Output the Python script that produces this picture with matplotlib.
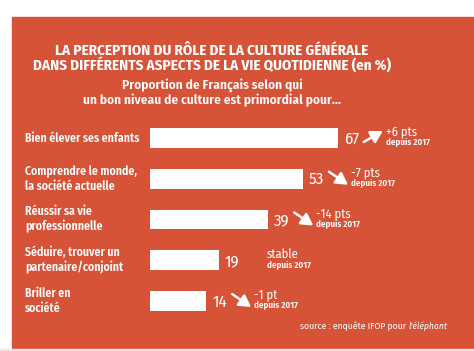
import matplotlib
matplotlib.use('Agg')
import numpy as np
import matplotlib.pyplot as plt
from matplotlib import font_manager, transforms
from matplotlib.patches import Rectangle

# Données (sondage IFOP)
CATEGORIES = ["Bien élever ses enfants",
              "Comprendre le monde,\nla société actuelle",
              "Réussir sa vie\nprofessionnelle",
              "Séduire, trouver un\npartenaire/conjoint",
              "Briller en\nsociété"]
VALUES = [67, 53, 39, 19, 14]
CHANGES = [6, -7, -14, 0, -1]
CHANGE_LABELS = ["+6 pts", "-7 pts", "-14 pts", "stable", "-1 pt"]
SINCE = "depuis 2017"

TITLE = "LA PERCEPTION DU RÔLE DE LA CULTURE GÉNÉRALE\nDANS DIFFÉRENTS ASPECTS DE LA VIE QUOTIDIENNE (en %)"
SUBTITLE = "Proportion de Français selon qui\nun bon niveau de culture est primordial pour..."

PANEL = '#D75338'
W, H = 474, 351

names = {f.name for f in font_manager.fontManager.ttflist}
FONT = 'Fira Sans Condensed' if 'Fira Sans Condensed' in names else 'Liberation Sans'
plt.rcParams['font.family'] = [FONT, 'DejaVu Sans']


def fx(px):
    return px / W


def fy(py):
    return 1 - py / H


fig = plt.figure(figsize=(W / 100, H / 100), dpi=100)
fig.patch.set_facecolor('white')
fig.add_artist(Rectangle((fx(12), fy(349)), 1 - fx(12), fy(17) - fy(349),
                         transform=fig.transFigure, color=PANEL, zorder=0))
fig.add_artist(Rectangle((0, 0), 1, fy(349), transform=fig.transFigure,
                         color='#EDE6E4', zorder=0))

fig.text(fx(212), fy(59), TITLE, ha='center', va='center', fontsize=10.8,
         weight='bold', color='white', linespacing=1.0)
fig.text(fx(212), fy(93), SUBTITLE, ha='center', va='center', fontsize=9.6,
         weight='semibold', color='white', linespacing=1.2)

# axe des barres : base décalée (barres non proportionnelles dans l'original)
BASE = -8.6
PX_PER_UNIT = 2.484
ax = fig.add_axes([fx(150), fy(321.4), fx(470) - fx(150), fy(117.6) - fy(321.4)])
ax.set_xlim(BASE, BASE + 320 / PX_PER_UNIT)
ax.set_ylim(len(VALUES) - 0.5, -0.5)
ax.axis('off')

y = np.arange(len(VALUES))
ax.barh(y, np.array(VALUES) - BASE, left=BASE, height=0.48, color='white')

lab_tr = transforms.blended_transform_factory(fig.transFigure, ax.transData)
for i, cat in enumerate(CATEGORIES):
    ax.text(fx(25), i, cat, transform=lab_tr, ha='left', va='center',
            fontsize=8.5, weight='semibold', color='white', linespacing=1.2)

for i, (v, ch, lab) in enumerate(zip(VALUES, CHANGES, CHANGE_LABELS)):
    ax.annotate(str(v), xy=(v, i), xytext=(6, -1), textcoords='offset pixels',
                ha='left', va='center', fontsize=12, color='white')
    if ch != 0:
        head_dy = 7 if ch > 0 else -6
        tail_dy = -4 if ch > 0 else 7
        head_tr = transforms.offset_copy(ax.transData, fig=fig, x=45, y=head_dy, units='dots')
        ax.annotate('', xy=(v, i), xycoords=head_tr,
                    xytext=(-19, tail_dy - head_dy), textcoords='offset pixels',
                    arrowprops=dict(arrowstyle='-|>,head_length=0.7,head_width=0.4',
                                    color='white', lw=1.8, shrinkA=0, shrinkB=0,
                                    mutation_scale=10))
    ax.annotate(lab, xy=(v, i), xytext=(48, 6), textcoords='offset pixels',
                ha='left', va='center', fontsize=9, color='white')
    ax.annotate(SINCE, xy=(v, i), xytext=(48, -4), textcoords='offset pixels',
                ha='left', va='center', fontsize=6.5, weight='semibold', color='white')

src = fig.text(fx(447), fy(331), "l'éléphant", ha='right', va='bottom',
               fontsize=6.9, style='italic', color='white')
ax.annotate("source : enquête IFOP pour ", xy=(0, 0), xycoords=src,
            ha='right', va='bottom', fontsize=6.9, color='white',
            annotation_clip=False)

fig.savefig('out.png', dpi=100, facecolor=fig.get_facecolor())
